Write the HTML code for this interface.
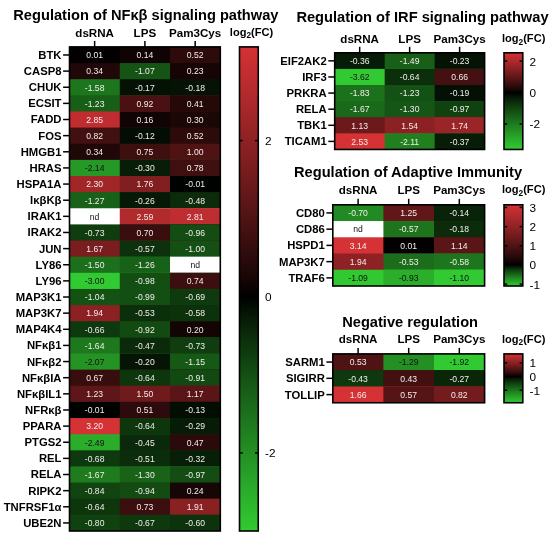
<!DOCTYPE html>
<html><head><meta charset="utf-8"><title>Heatmaps</title>
<style>
html,body{margin:0;padding:0;background:#fff;}
svg{display:block;font-family:"Liberation Sans", Arial, sans-serif;}
.title{font-weight:bold;font-size:14.65px;fill:#000;}
.hdr{font-weight:bold;font-size:11.6px;fill:#000;}
.lg{font-size:11.1px;}
.sub{font-size:8.3px;}
.rl{font-weight:bold;font-size:11.3px;fill:#000;}
.cv{font-size:8.6px;fill:#f2ecec;}
.cv.k{fill:#111;}
.cl{font-size:11.8px;fill:#000;}
.tk{stroke:#000;stroke-width:1.5;}
.bx{fill:none;stroke:#000;stroke-width:1.6;}
.bx2{stroke:#000;stroke-width:1.6;}
</style></head><body>
<svg width="550" height="538" viewBox="0 0 550 538">
<rect width="550" height="538" fill="#fff"/>
<text x="13.3" y="19.6" class="title">Regulation of NFκβ signaling pathway</text>
<text x="94.63" y="36.6" class="hdr" text-anchor="middle">dsRNA</text>
<line x1="94.63" y1="40.90" x2="94.63" y2="46.90" class="tk"/>
<text x="144.90" y="36.6" class="hdr" text-anchor="middle">LPS</text>
<line x1="144.90" y1="40.90" x2="144.90" y2="46.90" class="tk"/>
<text x="195.17" y="36.6" class="hdr" text-anchor="middle">Pam3Cys</text>
<line x1="195.17" y1="40.90" x2="195.17" y2="46.90" class="tk"/>
<text x="229.8" y="36.10" class="hdr lg">log<tspan class="sub" dy="2.3">2</tspan><tspan dy="-2.3">(FC)</tspan></text>
<text x="61.50" y="58.92" class="rl" text-anchor="end">BTK</text>
<line x1="63.10" y1="54.97" x2="69.50" y2="54.97" class="tk"/>
<rect x="69.50" y="46.90" width="150.80" height="484.10" fill="#020000"/>
<text x="94.63" y="58.27" class="cv" text-anchor="middle">0.01</text>
<rect x="119.77" y="46.90" width="100.53" height="484.10" fill="#0f0304"/>
<text x="144.90" y="58.27" class="cv" text-anchor="middle">0.14</text>
<rect x="170.03" y="46.90" width="50.27" height="484.10" fill="#2d0b0b"/>
<text x="195.17" y="58.27" class="cv" text-anchor="middle">0.52</text>
<text x="61.50" y="75.05" class="rl" text-anchor="end">CASP8</text>
<line x1="63.10" y1="71.10" x2="69.50" y2="71.10" class="tk"/>
<rect x="69.50" y="63.04" width="150.80" height="467.96" fill="#200708"/>
<text x="94.63" y="74.40" class="cv" text-anchor="middle">0.34</text>
<rect x="119.77" y="63.04" width="100.53" height="467.96" fill="#155415"/>
<text x="144.90" y="74.40" class="cv" text-anchor="middle">-1.07</text>
<rect x="170.03" y="63.04" width="50.27" height="467.96" fill="#170506"/>
<text x="195.17" y="74.40" class="cv" text-anchor="middle">0.23</text>
<text x="61.50" y="91.19" class="rl" text-anchor="end">CHUK</text>
<line x1="63.10" y1="87.24" x2="69.50" y2="87.24" class="tk"/>
<rect x="69.50" y="79.17" width="150.80" height="451.83" fill="#1d751d"/>
<text x="94.63" y="90.54" class="cv" text-anchor="middle">-1.58</text>
<rect x="119.77" y="79.17" width="100.53" height="451.83" fill="#041204"/>
<text x="144.90" y="90.54" class="cv" text-anchor="middle">-0.17</text>
<rect x="170.03" y="79.17" width="50.27" height="451.83" fill="#051205"/>
<text x="195.17" y="90.54" class="cv" text-anchor="middle">-0.18</text>
<text x="61.50" y="107.33" class="rl" text-anchor="end">ECSIT</text>
<line x1="63.10" y1="103.38" x2="69.50" y2="103.38" class="tk"/>
<rect x="69.50" y="95.31" width="150.80" height="435.69" fill="#175f17"/>
<text x="94.63" y="106.68" class="cv" text-anchor="middle">-1.23</text>
<rect x="119.77" y="95.31" width="100.53" height="435.69" fill="#491112"/>
<text x="144.90" y="106.68" class="cv" text-anchor="middle">0.92</text>
<rect x="170.03" y="95.31" width="50.27" height="435.69" fill="#250909"/>
<text x="195.17" y="106.68" class="cv" text-anchor="middle">0.41</text>
<text x="61.50" y="123.46" class="rl" text-anchor="end">FADD</text>
<line x1="63.10" y1="119.51" x2="69.50" y2="119.51" class="tk"/>
<rect x="69.50" y="111.45" width="150.80" height="419.55" fill="#c02d30"/>
<text x="94.63" y="122.81" class="cv" text-anchor="middle">2.85</text>
<rect x="119.77" y="111.45" width="100.53" height="419.55" fill="#110404"/>
<text x="144.90" y="122.81" class="cv" text-anchor="middle">0.16</text>
<rect x="170.03" y="111.45" width="50.27" height="419.55" fill="#1c0707"/>
<text x="195.17" y="122.81" class="cv" text-anchor="middle">0.30</text>
<text x="61.50" y="139.60" class="rl" text-anchor="end">FOS</text>
<line x1="63.10" y1="135.65" x2="69.50" y2="135.65" class="tk"/>
<rect x="69.50" y="127.58" width="150.80" height="403.42" fill="#431011"/>
<text x="94.63" y="138.95" class="cv" text-anchor="middle">0.82</text>
<rect x="119.77" y="127.58" width="100.53" height="403.42" fill="#030d03"/>
<text x="144.90" y="138.95" class="cv" text-anchor="middle">-0.12</text>
<rect x="170.03" y="127.58" width="50.27" height="403.42" fill="#2d0b0b"/>
<text x="195.17" y="138.95" class="cv" text-anchor="middle">0.52</text>
<text x="61.50" y="155.74" class="rl" text-anchor="end">HMGB1</text>
<line x1="63.10" y1="151.79" x2="69.50" y2="151.79" class="tk"/>
<rect x="69.50" y="143.72" width="150.80" height="387.28" fill="#200708"/>
<text x="94.63" y="155.09" class="cv" text-anchor="middle">0.34</text>
<rect x="119.77" y="143.72" width="100.53" height="387.28" fill="#3e0f0f"/>
<text x="144.90" y="155.09" class="cv" text-anchor="middle">0.75</text>
<rect x="170.03" y="143.72" width="50.27" height="387.28" fill="#4f1314"/>
<text x="195.17" y="155.09" class="cv" text-anchor="middle">1.00</text>
<text x="61.50" y="171.88" class="rl" text-anchor="end">HRAS</text>
<line x1="63.10" y1="167.93" x2="69.50" y2="167.93" class="tk"/>
<rect x="69.50" y="159.86" width="150.80" height="371.14" fill="#269826"/>
<text x="94.63" y="171.23" class="cv k" text-anchor="middle">-2.14</text>
<rect x="119.77" y="159.86" width="100.53" height="371.14" fill="#071d07"/>
<text x="144.90" y="171.23" class="cv" text-anchor="middle">-0.30</text>
<rect x="170.03" y="159.86" width="50.27" height="371.14" fill="#400f10"/>
<text x="195.17" y="171.23" class="cv" text-anchor="middle">0.78</text>
<text x="61.50" y="188.01" class="rl" text-anchor="end">HSPA1A</text>
<line x1="63.10" y1="184.06" x2="69.50" y2="184.06" class="tk"/>
<rect x="69.50" y="175.99" width="150.80" height="355.01" fill="#a02628"/>
<text x="94.63" y="187.36" class="cv" text-anchor="middle">2.30</text>
<rect x="119.77" y="175.99" width="100.53" height="355.01" fill="#801e20"/>
<text x="144.90" y="187.36" class="cv" text-anchor="middle">1.76</text>
<rect x="170.03" y="175.99" width="50.27" height="355.01" fill="#000200"/>
<text x="195.17" y="187.36" class="cv" text-anchor="middle">-0.01</text>
<text x="61.50" y="204.15" class="rl" text-anchor="end">IκβKβ</text>
<line x1="63.10" y1="200.20" x2="69.50" y2="200.20" class="tk"/>
<rect x="69.50" y="192.13" width="150.80" height="338.87" fill="#186118"/>
<text x="94.63" y="203.50" class="cv" text-anchor="middle">-1.27</text>
<rect x="119.77" y="192.13" width="100.53" height="338.87" fill="#061906"/>
<text x="144.90" y="203.50" class="cv" text-anchor="middle">-0.26</text>
<rect x="170.03" y="192.13" width="50.27" height="338.87" fill="#0b2b0b"/>
<text x="195.17" y="203.50" class="cv" text-anchor="middle">-0.48</text>
<text x="61.50" y="220.28" class="rl" text-anchor="end">IRAK1</text>
<line x1="63.10" y1="216.34" x2="69.50" y2="216.34" class="tk"/>
<rect x="69.50" y="208.27" width="150.80" height="322.73" fill="#ffffff"/>
<text x="94.63" y="219.64" class="cv k" text-anchor="middle">nd</text>
<rect x="119.77" y="208.27" width="100.53" height="322.73" fill="#b12a2c"/>
<text x="144.90" y="219.64" class="cv" text-anchor="middle">2.59</text>
<rect x="170.03" y="208.27" width="50.27" height="322.73" fill="#be2d2f"/>
<text x="195.17" y="219.64" class="cv" text-anchor="middle">2.81</text>
<text x="61.50" y="236.42" class="rl" text-anchor="end">IRAK2</text>
<line x1="63.10" y1="232.47" x2="69.50" y2="232.47" class="tk"/>
<rect x="69.50" y="224.40" width="150.80" height="306.60" fill="#0f3d0f"/>
<text x="94.63" y="235.77" class="cv" text-anchor="middle">-0.73</text>
<rect x="119.77" y="224.40" width="100.53" height="306.60" fill="#3a0e0f"/>
<text x="144.90" y="235.77" class="cv" text-anchor="middle">0.70</text>
<rect x="170.03" y="224.40" width="50.27" height="306.60" fill="#134d13"/>
<text x="195.17" y="235.77" class="cv" text-anchor="middle">-0.96</text>
<text x="61.50" y="252.56" class="rl" text-anchor="end">JUN</text>
<line x1="63.10" y1="248.61" x2="69.50" y2="248.61" class="tk"/>
<rect x="69.50" y="240.54" width="150.80" height="290.46" fill="#7a1d1e"/>
<text x="94.63" y="251.91" class="cv" text-anchor="middle">1.67</text>
<rect x="119.77" y="240.54" width="100.53" height="290.46" fill="#0c310c"/>
<text x="144.90" y="251.91" class="cv" text-anchor="middle">-0.57</text>
<rect x="170.03" y="240.54" width="50.27" height="290.46" fill="#144f14"/>
<text x="195.17" y="251.91" class="cv" text-anchor="middle">-1.00</text>
<text x="61.50" y="268.69" class="rl" text-anchor="end">LY86</text>
<line x1="63.10" y1="264.75" x2="69.50" y2="264.75" class="tk"/>
<rect x="69.50" y="256.68" width="150.80" height="274.32" fill="#1c701c"/>
<text x="94.63" y="268.05" class="cv" text-anchor="middle">-1.50</text>
<rect x="119.77" y="256.68" width="100.53" height="274.32" fill="#186118"/>
<text x="144.90" y="268.05" class="cv" text-anchor="middle">-1.26</text>
<rect x="170.03" y="256.68" width="50.27" height="274.32" fill="#ffffff"/>
<text x="195.17" y="268.05" class="cv k" text-anchor="middle">nd</text>
<text x="61.50" y="284.83" class="rl" text-anchor="end">LY96</text>
<line x1="63.10" y1="280.88" x2="69.50" y2="280.88" class="tk"/>
<rect x="69.50" y="272.81" width="150.80" height="258.19" fill="#32ca32"/>
<text x="94.63" y="284.18" class="cv k" text-anchor="middle">-3.00</text>
<rect x="119.77" y="272.81" width="100.53" height="258.19" fill="#134e13"/>
<text x="144.90" y="284.18" class="cv" text-anchor="middle">-0.98</text>
<rect x="170.03" y="272.81" width="50.27" height="258.19" fill="#3d0e0f"/>
<text x="195.17" y="284.18" class="cv" text-anchor="middle">0.74</text>
<text x="61.50" y="300.97" class="rl" text-anchor="end">MAP3K1</text>
<line x1="63.10" y1="297.02" x2="69.50" y2="297.02" class="tk"/>
<rect x="69.50" y="288.95" width="150.80" height="242.05" fill="#145214"/>
<text x="94.63" y="300.32" class="cv" text-anchor="middle">-1.04</text>
<rect x="119.77" y="288.95" width="100.53" height="242.05" fill="#134f13"/>
<text x="144.90" y="300.32" class="cv" text-anchor="middle">-0.99</text>
<rect x="170.03" y="288.95" width="50.27" height="242.05" fill="#0e3a0e"/>
<text x="195.17" y="300.32" class="cv" text-anchor="middle">-0.69</text>
<text x="61.50" y="317.10" class="rl" text-anchor="end">MAP3K7</text>
<line x1="63.10" y1="313.15" x2="69.50" y2="313.15" class="tk"/>
<rect x="69.50" y="305.09" width="150.80" height="225.91" fill="#8b2123"/>
<text x="94.63" y="316.45" class="cv" text-anchor="middle">1.94</text>
<rect x="119.77" y="305.09" width="100.53" height="225.91" fill="#0b2e0b"/>
<text x="144.90" y="316.45" class="cv" text-anchor="middle">-0.53</text>
<rect x="170.03" y="305.09" width="50.27" height="225.91" fill="#0c320c"/>
<text x="195.17" y="316.45" class="cv" text-anchor="middle">-0.58</text>
<text x="61.50" y="333.24" class="rl" text-anchor="end">MAP4K4</text>
<line x1="63.10" y1="329.29" x2="69.50" y2="329.29" class="tk"/>
<rect x="69.50" y="321.22" width="150.80" height="209.78" fill="#0e380e"/>
<text x="94.63" y="332.59" class="cv" text-anchor="middle">-0.66</text>
<rect x="119.77" y="321.22" width="100.53" height="209.78" fill="#124a12"/>
<text x="144.90" y="332.59" class="cv" text-anchor="middle">-0.92</text>
<rect x="170.03" y="321.22" width="50.27" height="209.78" fill="#140505"/>
<text x="195.17" y="332.59" class="cv" text-anchor="middle">0.20</text>
<text x="61.50" y="349.38" class="rl" text-anchor="end">NFκβ1</text>
<line x1="63.10" y1="345.43" x2="69.50" y2="345.43" class="tk"/>
<rect x="69.50" y="337.36" width="150.80" height="193.64" fill="#1e791e"/>
<text x="94.63" y="348.73" class="cv" text-anchor="middle">-1.64</text>
<rect x="119.77" y="337.36" width="100.53" height="193.64" fill="#0a2a0a"/>
<text x="144.90" y="348.73" class="cv" text-anchor="middle">-0.47</text>
<rect x="170.03" y="337.36" width="50.27" height="193.64" fill="#0f3d0f"/>
<text x="195.17" y="348.73" class="cv" text-anchor="middle">-0.73</text>
<text x="61.50" y="365.51" class="rl" text-anchor="end">NFκβ2</text>
<line x1="63.10" y1="361.56" x2="69.50" y2="361.56" class="tk"/>
<rect x="69.50" y="353.50" width="150.80" height="177.50" fill="#249324"/>
<text x="94.63" y="364.87" class="cv k" text-anchor="middle">-2.07</text>
<rect x="119.77" y="353.50" width="100.53" height="177.50" fill="#051405"/>
<text x="144.90" y="364.87" class="cv" text-anchor="middle">-0.20</text>
<rect x="170.03" y="353.50" width="50.27" height="177.50" fill="#165916"/>
<text x="195.17" y="364.87" class="cv" text-anchor="middle">-1.15</text>
<text x="61.50" y="381.65" class="rl" text-anchor="end">NFκβIA</text>
<line x1="63.10" y1="377.70" x2="69.50" y2="377.70" class="tk"/>
<rect x="69.50" y="369.63" width="150.80" height="161.37" fill="#380d0e"/>
<text x="94.63" y="381.00" class="cv" text-anchor="middle">0.67</text>
<rect x="119.77" y="369.63" width="100.53" height="161.37" fill="#0d360d"/>
<text x="144.90" y="381.00" class="cv" text-anchor="middle">-0.64</text>
<rect x="170.03" y="369.63" width="50.27" height="161.37" fill="#124912"/>
<text x="195.17" y="381.00" class="cv" text-anchor="middle">-0.91</text>
<text x="61.50" y="397.79" class="rl" text-anchor="end">NFκβIL1</text>
<line x1="63.10" y1="393.84" x2="69.50" y2="393.84" class="tk"/>
<rect x="69.50" y="385.77" width="150.80" height="145.23" fill="#5e1618"/>
<text x="94.63" y="397.14" class="cv" text-anchor="middle">1.23</text>
<rect x="119.77" y="385.77" width="100.53" height="145.23" fill="#6f1a1c"/>
<text x="144.90" y="397.14" class="cv" text-anchor="middle">1.50</text>
<rect x="170.03" y="385.77" width="50.27" height="145.23" fill="#5a1517"/>
<text x="195.17" y="397.14" class="cv" text-anchor="middle">1.17</text>
<text x="61.50" y="413.92" class="rl" text-anchor="end">NFRκβ</text>
<line x1="63.10" y1="409.97" x2="69.50" y2="409.97" class="tk"/>
<rect x="69.50" y="401.91" width="150.80" height="129.09" fill="#000200"/>
<text x="94.63" y="413.27" class="cv" text-anchor="middle">-0.01</text>
<rect x="119.77" y="401.91" width="100.53" height="129.09" fill="#2d0a0b"/>
<text x="144.90" y="413.27" class="cv" text-anchor="middle">0.51</text>
<rect x="170.03" y="401.91" width="50.27" height="129.09" fill="#030e03"/>
<text x="195.17" y="413.27" class="cv" text-anchor="middle">-0.13</text>
<text x="61.50" y="430.06" class="rl" text-anchor="end">PPARA</text>
<line x1="63.10" y1="426.11" x2="69.50" y2="426.11" class="tk"/>
<rect x="69.50" y="418.04" width="150.80" height="112.96" fill="#d43235"/>
<text x="94.63" y="429.41" class="cv" text-anchor="middle">3.20</text>
<rect x="119.77" y="418.04" width="100.53" height="112.96" fill="#0d360d"/>
<text x="144.90" y="429.41" class="cv" text-anchor="middle">-0.64</text>
<rect x="170.03" y="418.04" width="50.27" height="112.96" fill="#071c07"/>
<text x="195.17" y="429.41" class="cv" text-anchor="middle">-0.29</text>
<text x="61.50" y="446.20" class="rl" text-anchor="end">PTGS2</text>
<line x1="63.10" y1="442.25" x2="69.50" y2="442.25" class="tk"/>
<rect x="69.50" y="434.18" width="150.80" height="96.82" fill="#2bac2b"/>
<text x="94.63" y="445.55" class="cv k" text-anchor="middle">-2.49</text>
<rect x="119.77" y="434.18" width="100.53" height="96.82" fill="#0a280a"/>
<text x="144.90" y="445.55" class="cv" text-anchor="middle">-0.45</text>
<rect x="170.03" y="434.18" width="50.27" height="96.82" fill="#2a0a0a"/>
<text x="195.17" y="445.55" class="cv" text-anchor="middle">0.47</text>
<text x="61.50" y="462.33" class="rl" text-anchor="end">REL</text>
<line x1="63.10" y1="458.38" x2="69.50" y2="458.38" class="tk"/>
<rect x="69.50" y="450.32" width="150.80" height="80.68" fill="#0e390e"/>
<text x="94.63" y="461.69" class="cv" text-anchor="middle">-0.68</text>
<rect x="119.77" y="450.32" width="100.53" height="80.68" fill="#0b2d0b"/>
<text x="144.90" y="461.69" class="cv" text-anchor="middle">-0.51</text>
<rect x="170.03" y="450.32" width="50.27" height="80.68" fill="#071e07"/>
<text x="195.17" y="461.69" class="cv" text-anchor="middle">-0.32</text>
<text x="61.50" y="478.47" class="rl" text-anchor="end">RELA</text>
<line x1="63.10" y1="474.52" x2="69.50" y2="474.52" class="tk"/>
<rect x="69.50" y="466.45" width="150.80" height="64.55" fill="#1e7b1e"/>
<text x="94.63" y="477.82" class="cv" text-anchor="middle">-1.67</text>
<rect x="119.77" y="466.45" width="100.53" height="64.55" fill="#196319"/>
<text x="144.90" y="477.82" class="cv" text-anchor="middle">-1.30</text>
<rect x="170.03" y="466.45" width="50.27" height="64.55" fill="#134d13"/>
<text x="195.17" y="477.82" class="cv" text-anchor="middle">-0.97</text>
<text x="61.50" y="494.61" class="rl" text-anchor="end">RIPK2</text>
<line x1="63.10" y1="490.66" x2="69.50" y2="490.66" class="tk"/>
<rect x="69.50" y="482.59" width="150.80" height="48.41" fill="#114411"/>
<text x="94.63" y="493.96" class="cv" text-anchor="middle">-0.84</text>
<rect x="119.77" y="482.59" width="100.53" height="48.41" fill="#134b13"/>
<text x="144.90" y="493.96" class="cv" text-anchor="middle">-0.94</text>
<rect x="170.03" y="482.59" width="50.27" height="48.41" fill="#170606"/>
<text x="195.17" y="493.96" class="cv" text-anchor="middle">0.24</text>
<text x="61.50" y="510.74" class="rl" text-anchor="end">TNFRSF1α</text>
<line x1="63.10" y1="506.79" x2="69.50" y2="506.79" class="tk"/>
<rect x="69.50" y="498.73" width="150.80" height="32.27" fill="#0d360d"/>
<text x="94.63" y="510.09" class="cv" text-anchor="middle">-0.64</text>
<rect x="119.77" y="498.73" width="100.53" height="32.27" fill="#3c0e0f"/>
<text x="144.90" y="510.09" class="cv" text-anchor="middle">0.73</text>
<rect x="170.03" y="498.73" width="50.27" height="32.27" fill="#892022"/>
<text x="195.17" y="510.09" class="cv" text-anchor="middle">1.91</text>
<text x="61.50" y="526.88" class="rl" text-anchor="end">UBE2N</text>
<line x1="63.10" y1="522.93" x2="69.50" y2="522.93" class="tk"/>
<rect x="69.50" y="514.86" width="150.80" height="16.14" fill="#104210"/>
<text x="94.63" y="526.23" class="cv" text-anchor="middle">-0.80</text>
<rect x="119.77" y="514.86" width="100.53" height="16.14" fill="#0e380e"/>
<text x="144.90" y="526.23" class="cv" text-anchor="middle">-0.67</text>
<rect x="170.03" y="514.86" width="50.27" height="16.14" fill="#0d330d"/>
<text x="195.17" y="526.23" class="cv" text-anchor="middle">-0.60</text>
<rect x="69.5" y="46.9" width="150.80" height="484.10" class="bx"/>
<defs><linearGradient id="ga" x1="0" y1="0" x2="0" y2="1"><stop offset="0.00%" stop-color="rgb(212, 50, 53)"/><stop offset="4.30%" stop-color="rgb(197, 46, 49)"/><stop offset="8.60%" stop-color="rgb(182, 43, 45)"/><stop offset="12.90%" stop-color="rgb(166, 39, 42)"/><stop offset="17.20%" stop-color="rgb(150, 35, 38)"/><stop offset="21.51%" stop-color="rgb(134, 32, 34)"/><stop offset="25.81%" stop-color="rgb(118, 28, 29)"/><stop offset="30.11%" stop-color="rgb(101, 24, 25)"/><stop offset="34.41%" stop-color="rgb(83, 20, 21)"/><stop offset="38.71%" stop-color="rgb(65, 15, 16)"/><stop offset="43.01%" stop-color="rgb(46, 11, 12)"/><stop offset="47.31%" stop-color="rgb(26, 6, 6)"/><stop offset="51.61%" stop-color="rgb(0, 0, 0)"/><stop offset="55.65%" stop-color="rgb(6, 24, 6)"/><stop offset="59.68%" stop-color="rgb(11, 44, 11)"/><stop offset="63.71%" stop-color="rgb(15, 62, 15)"/><stop offset="67.74%" stop-color="rgb(20, 79, 20)"/><stop offset="71.77%" stop-color="rgb(24, 96, 24)"/><stop offset="75.81%" stop-color="rgb(28, 112, 28)"/><stop offset="79.84%" stop-color="rgb(32, 128, 32)"/><stop offset="83.87%" stop-color="rgb(35, 143, 35)"/><stop offset="87.90%" stop-color="rgb(39, 158, 39)"/><stop offset="91.94%" stop-color="rgb(43, 173, 43)"/><stop offset="95.97%" stop-color="rgb(46, 188, 46)"/><stop offset="100.00%" stop-color="rgb(50, 202, 50)"/></linearGradient></defs>
<rect x="239.5" y="46.9" width="18.75" height="484.10" fill="url(#ga)" class="bx2"/>
<line x1="239.5" y1="140.60" x2="242.7" y2="140.60" class="tk"/>
<line x1="255.05" y1="140.60" x2="258.25" y2="140.60" class="tk"/>
<text x="265" y="145.05" class="cl">2</text>
<line x1="239.5" y1="296.76" x2="242.7" y2="296.76" class="tk"/>
<line x1="255.05" y1="296.76" x2="258.25" y2="296.76" class="tk"/>
<text x="265" y="301.21" class="cl">0</text>
<line x1="239.5" y1="452.92" x2="242.7" y2="452.92" class="tk"/>
<line x1="255.05" y1="452.92" x2="258.25" y2="452.92" class="tk"/>
<text x="265" y="457.37" class="cl">-2</text>
<text x="296.4" y="21.8" class="title">Regulation of IRF signaling pathway</text>
<text x="359.68" y="42.8" class="hdr" text-anchor="middle">dsRNA</text>
<line x1="359.68" y1="46.80" x2="359.68" y2="52.80" class="tk"/>
<text x="409.65" y="42.8" class="hdr" text-anchor="middle">LPS</text>
<line x1="409.65" y1="46.80" x2="409.65" y2="52.80" class="tk"/>
<text x="459.62" y="42.8" class="hdr" text-anchor="middle">Pam3Cys</text>
<line x1="459.62" y1="46.80" x2="459.62" y2="52.80" class="tk"/>
<text x="501.9" y="42.30" class="hdr lg">log<tspan class="sub" dy="2.3">2</tspan><tspan dy="-2.3">(FC)</tspan></text>
<text x="326.70" y="64.80" class="rl" text-anchor="end">EIF2AK2</text>
<line x1="328.30" y1="60.85" x2="334.70" y2="60.85" class="tk"/>
<rect x="334.70" y="52.80" width="149.90" height="96.65" fill="#071c07"/>
<text x="359.68" y="64.15" class="cv" text-anchor="middle">-0.36</text>
<rect x="384.67" y="52.80" width="99.93" height="96.65" fill="#185f18"/>
<text x="409.65" y="64.15" class="cv" text-anchor="middle">-1.49</text>
<rect x="434.63" y="52.80" width="49.97" height="96.65" fill="#051305"/>
<text x="459.62" y="64.15" class="cv" text-anchor="middle">-0.23</text>
<text x="326.70" y="80.91" class="rl" text-anchor="end">IRF3</text>
<line x1="328.30" y1="76.96" x2="334.70" y2="76.96" class="tk"/>
<rect x="334.70" y="68.91" width="149.90" height="80.54" fill="#32ca32"/>
<text x="359.68" y="80.26" class="cv k" text-anchor="middle">-3.62</text>
<rect x="384.67" y="68.91" width="99.93" height="80.54" fill="#0b2e0b"/>
<text x="409.65" y="80.26" class="cv" text-anchor="middle">-0.64</text>
<rect x="434.63" y="68.91" width="49.97" height="80.54" fill="#441011"/>
<text x="459.62" y="80.26" class="cv" text-anchor="middle">0.66</text>
<text x="326.70" y="97.02" class="rl" text-anchor="end">PRKRA</text>
<line x1="328.30" y1="93.07" x2="334.70" y2="93.07" class="tk"/>
<rect x="334.70" y="85.02" width="149.90" height="64.43" fill="#1c711c"/>
<text x="359.68" y="96.37" class="cv" text-anchor="middle">-1.83</text>
<rect x="384.67" y="85.02" width="99.93" height="64.43" fill="#145114"/>
<text x="409.65" y="96.37" class="cv" text-anchor="middle">-1.23</text>
<rect x="434.63" y="85.02" width="49.97" height="64.43" fill="#041004"/>
<text x="459.62" y="96.37" class="cv" text-anchor="middle">-0.19</text>
<text x="326.70" y="113.13" class="rl" text-anchor="end">RELA</text>
<line x1="328.30" y1="109.18" x2="334.70" y2="109.18" class="tk"/>
<rect x="334.70" y="101.12" width="149.90" height="48.33" fill="#1a691a"/>
<text x="359.68" y="112.48" class="cv" text-anchor="middle">-1.67</text>
<rect x="384.67" y="101.12" width="99.93" height="48.33" fill="#155515"/>
<text x="409.65" y="112.48" class="cv" text-anchor="middle">-1.30</text>
<rect x="434.63" y="101.12" width="49.97" height="48.33" fill="#104210"/>
<text x="459.62" y="112.48" class="cv" text-anchor="middle">-0.97</text>
<text x="326.70" y="129.24" class="rl" text-anchor="end">TBK1</text>
<line x1="328.30" y1="125.29" x2="334.70" y2="125.29" class="tk"/>
<rect x="334.70" y="117.23" width="149.90" height="32.22" fill="#6b191b"/>
<text x="359.68" y="128.59" class="cv" text-anchor="middle">1.13</text>
<rect x="384.67" y="117.23" width="99.93" height="32.22" fill="#8b2123"/>
<text x="409.65" y="128.59" class="cv" text-anchor="middle">1.54</text>
<rect x="434.63" y="117.23" width="49.97" height="32.22" fill="#9a2427"/>
<text x="459.62" y="128.59" class="cv" text-anchor="middle">1.74</text>
<text x="326.70" y="145.35" class="rl" text-anchor="end">TICAM1</text>
<line x1="328.30" y1="141.40" x2="334.70" y2="141.40" class="tk"/>
<rect x="334.70" y="133.34" width="149.90" height="16.11" fill="#d43235"/>
<text x="359.68" y="144.70" class="cv" text-anchor="middle">2.53</text>
<rect x="384.67" y="133.34" width="99.93" height="16.11" fill="#208020"/>
<text x="409.65" y="144.70" class="cv" text-anchor="middle">-2.11</text>
<rect x="434.63" y="133.34" width="49.97" height="16.11" fill="#071d07"/>
<text x="459.62" y="144.70" class="cv" text-anchor="middle">-0.37</text>
<rect x="334.7" y="52.8" width="149.90" height="96.65" class="bx"/>
<defs><linearGradient id="gb" x1="0" y1="0" x2="0" y2="1"><stop offset="0.00%" stop-color="rgb(212, 50, 53)"/><stop offset="3.43%" stop-color="rgb(197, 46, 49)"/><stop offset="6.86%" stop-color="rgb(182, 43, 45)"/><stop offset="10.28%" stop-color="rgb(166, 39, 42)"/><stop offset="13.71%" stop-color="rgb(150, 35, 38)"/><stop offset="17.14%" stop-color="rgb(134, 32, 34)"/><stop offset="20.57%" stop-color="rgb(118, 28, 29)"/><stop offset="24.00%" stop-color="rgb(101, 24, 25)"/><stop offset="27.43%" stop-color="rgb(83, 20, 21)"/><stop offset="30.85%" stop-color="rgb(65, 15, 16)"/><stop offset="34.28%" stop-color="rgb(46, 11, 12)"/><stop offset="37.71%" stop-color="rgb(26, 6, 6)"/><stop offset="41.14%" stop-color="rgb(0, 0, 0)"/><stop offset="46.04%" stop-color="rgb(6, 24, 6)"/><stop offset="50.95%" stop-color="rgb(11, 44, 11)"/><stop offset="55.85%" stop-color="rgb(15, 62, 15)"/><stop offset="60.76%" stop-color="rgb(20, 79, 20)"/><stop offset="65.66%" stop-color="rgb(24, 96, 24)"/><stop offset="70.57%" stop-color="rgb(28, 112, 28)"/><stop offset="75.47%" stop-color="rgb(32, 128, 32)"/><stop offset="80.38%" stop-color="rgb(35, 143, 35)"/><stop offset="85.28%" stop-color="rgb(39, 158, 39)"/><stop offset="90.19%" stop-color="rgb(43, 173, 43)"/><stop offset="95.09%" stop-color="rgb(46, 188, 46)"/><stop offset="100.00%" stop-color="rgb(50, 202, 50)"/></linearGradient></defs>
<rect x="504.0" y="52.8" width="18.80" height="96.65" fill="url(#gb)" class="bx2"/>
<line x1="504.0" y1="61.13" x2="507.2" y2="61.13" class="tk"/>
<line x1="519.5999999999999" y1="61.13" x2="522.8" y2="61.13" class="tk"/>
<text x="529.6" y="65.58" class="cl">2</text>
<line x1="504.0" y1="92.56" x2="507.2" y2="92.56" class="tk"/>
<line x1="519.5999999999999" y1="92.56" x2="522.8" y2="92.56" class="tk"/>
<text x="529.6" y="97.01" class="cl">0</text>
<line x1="504.0" y1="123.99" x2="507.2" y2="123.99" class="tk"/>
<line x1="519.5999999999999" y1="123.99" x2="522.8" y2="123.99" class="tk"/>
<text x="529.6" y="128.44" class="cl">-2</text>
<text x="294.0" y="177.0" class="title">Regulation of Adaptive Immunity</text>
<text x="358.10" y="193.8" class="hdr" text-anchor="middle">dsRNA</text>
<line x1="358.10" y1="198.80" x2="358.10" y2="204.80" class="tk"/>
<text x="408.70" y="193.8" class="hdr" text-anchor="middle">LPS</text>
<line x1="408.70" y1="198.80" x2="408.70" y2="204.80" class="tk"/>
<text x="459.30" y="193.8" class="hdr" text-anchor="middle">Pam3Cys</text>
<line x1="459.30" y1="198.80" x2="459.30" y2="204.80" class="tk"/>
<text x="501.9" y="193.30" class="hdr lg">log<tspan class="sub" dy="2.3">2</tspan><tspan dy="-2.3">(FC)</tspan></text>
<text x="324.80" y="216.87" class="rl" text-anchor="end">CD80</text>
<line x1="326.40" y1="212.92" x2="332.80" y2="212.92" class="tk"/>
<rect x="332.80" y="204.80" width="151.80" height="81.20" fill="#228a22"/>
<text x="358.10" y="216.22" class="cv" text-anchor="middle">-0.70</text>
<rect x="383.40" y="204.80" width="101.20" height="81.20" fill="#611718"/>
<text x="408.70" y="216.22" class="cv" text-anchor="middle">1.25</text>
<rect x="434.00" y="204.80" width="50.60" height="81.20" fill="#092309"/>
<text x="459.30" y="216.22" class="cv" text-anchor="middle">-0.14</text>
<text x="324.80" y="233.11" class="rl" text-anchor="end">CD86</text>
<line x1="326.40" y1="229.16" x2="332.80" y2="229.16" class="tk"/>
<rect x="332.80" y="221.04" width="151.80" height="64.96" fill="#ffffff"/>
<text x="358.10" y="232.46" class="cv k" text-anchor="middle">nd</text>
<rect x="383.40" y="221.04" width="101.20" height="64.96" fill="#1d741d"/>
<text x="408.70" y="232.46" class="cv" text-anchor="middle">-0.57</text>
<rect x="434.00" y="221.04" width="50.60" height="64.96" fill="#0b2b0b"/>
<text x="459.30" y="232.46" class="cv" text-anchor="middle">-0.18</text>
<text x="324.80" y="249.35" class="rl" text-anchor="end">HSPD1</text>
<line x1="326.40" y1="245.40" x2="332.80" y2="245.40" class="tk"/>
<rect x="332.80" y="237.28" width="151.80" height="48.72" fill="#d43235"/>
<text x="358.10" y="248.70" class="cv" text-anchor="middle">3.14</text>
<rect x="383.40" y="237.28" width="101.20" height="48.72" fill="#020000"/>
<text x="408.70" y="248.70" class="cv" text-anchor="middle">0.01</text>
<rect x="434.00" y="237.28" width="50.60" height="48.72" fill="#5a1516"/>
<text x="459.30" y="248.70" class="cv" text-anchor="middle">1.14</text>
<text x="324.80" y="265.59" class="rl" text-anchor="end">MAP3K7</text>
<line x1="326.40" y1="261.64" x2="332.80" y2="261.64" class="tk"/>
<rect x="332.80" y="253.52" width="151.80" height="32.48" fill="#8d2123"/>
<text x="358.10" y="264.94" class="cv" text-anchor="middle">1.94</text>
<rect x="383.40" y="253.52" width="101.20" height="32.48" fill="#1b6d1b"/>
<text x="408.70" y="264.94" class="cv" text-anchor="middle">-0.53</text>
<rect x="434.00" y="253.52" width="50.60" height="32.48" fill="#1d751d"/>
<text x="459.30" y="264.94" class="cv" text-anchor="middle">-0.58</text>
<text x="324.80" y="281.83" class="rl" text-anchor="end">TRAF6</text>
<line x1="326.40" y1="277.88" x2="332.80" y2="277.88" class="tk"/>
<rect x="332.80" y="269.76" width="151.80" height="16.24" fill="#32c832"/>
<text x="358.10" y="281.18" class="cv k" text-anchor="middle">-1.09</text>
<rect x="383.40" y="269.76" width="101.20" height="16.24" fill="#2baf2b"/>
<text x="408.70" y="281.18" class="cv k" text-anchor="middle">-0.93</text>
<rect x="434.00" y="269.76" width="50.60" height="16.24" fill="#32ca32"/>
<text x="459.30" y="281.18" class="cv k" text-anchor="middle">-1.10</text>
<rect x="332.8" y="204.8" width="151.80" height="81.20" class="bx"/>
<defs><linearGradient id="gc" x1="0" y1="0" x2="0" y2="1"><stop offset="0.00%" stop-color="rgb(212, 50, 53)"/><stop offset="6.17%" stop-color="rgb(197, 46, 49)"/><stop offset="12.34%" stop-color="rgb(182, 43, 45)"/><stop offset="18.51%" stop-color="rgb(166, 39, 42)"/><stop offset="24.69%" stop-color="rgb(150, 35, 38)"/><stop offset="30.86%" stop-color="rgb(134, 32, 34)"/><stop offset="37.03%" stop-color="rgb(118, 28, 29)"/><stop offset="43.20%" stop-color="rgb(101, 24, 25)"/><stop offset="49.37%" stop-color="rgb(83, 20, 21)"/><stop offset="55.54%" stop-color="rgb(65, 15, 16)"/><stop offset="61.71%" stop-color="rgb(46, 11, 12)"/><stop offset="67.89%" stop-color="rgb(26, 6, 6)"/><stop offset="74.06%" stop-color="rgb(0, 0, 0)"/><stop offset="76.22%" stop-color="rgb(6, 24, 6)"/><stop offset="78.38%" stop-color="rgb(11, 44, 11)"/><stop offset="80.54%" stop-color="rgb(15, 62, 15)"/><stop offset="82.70%" stop-color="rgb(20, 79, 20)"/><stop offset="84.87%" stop-color="rgb(24, 96, 24)"/><stop offset="87.03%" stop-color="rgb(28, 112, 28)"/><stop offset="89.19%" stop-color="rgb(32, 128, 32)"/><stop offset="91.35%" stop-color="rgb(35, 143, 35)"/><stop offset="93.51%" stop-color="rgb(39, 158, 39)"/><stop offset="95.68%" stop-color="rgb(43, 173, 43)"/><stop offset="97.84%" stop-color="rgb(46, 188, 46)"/><stop offset="100.00%" stop-color="rgb(50, 202, 50)"/></linearGradient></defs>
<rect x="504.0" y="204.8" width="18.80" height="81.20" fill="url(#gc)" class="bx2"/>
<line x1="504.0" y1="207.48" x2="507.2" y2="207.48" class="tk"/>
<line x1="519.5999999999999" y1="207.48" x2="522.8" y2="207.48" class="tk"/>
<text x="529.6" y="211.93" class="cl">3</text>
<line x1="504.0" y1="226.63" x2="507.2" y2="226.63" class="tk"/>
<line x1="519.5999999999999" y1="226.63" x2="522.8" y2="226.63" class="tk"/>
<text x="529.6" y="231.08" class="cl">2</text>
<line x1="504.0" y1="245.78" x2="507.2" y2="245.78" class="tk"/>
<line x1="519.5999999999999" y1="245.78" x2="522.8" y2="245.78" class="tk"/>
<text x="529.6" y="250.23" class="cl">1</text>
<line x1="504.0" y1="264.93" x2="507.2" y2="264.93" class="tk"/>
<line x1="519.5999999999999" y1="264.93" x2="522.8" y2="264.93" class="tk"/>
<text x="529.6" y="269.38" class="cl">0</text>
<line x1="504.0" y1="284.08" x2="507.2" y2="284.08" class="tk"/>
<line x1="519.5999999999999" y1="284.08" x2="522.8" y2="284.08" class="tk"/>
<text x="529.6" y="288.53" class="cl">-1</text>
<text x="342.2" y="326.5" class="title">Negative regulation</text>
<text x="358.10" y="343.1" class="hdr" text-anchor="middle">dsRNA</text>
<line x1="358.10" y1="347.90" x2="358.10" y2="353.90" class="tk"/>
<text x="408.70" y="343.1" class="hdr" text-anchor="middle">LPS</text>
<line x1="408.70" y1="347.90" x2="408.70" y2="353.90" class="tk"/>
<text x="459.30" y="343.1" class="hdr" text-anchor="middle">Pam3Cys</text>
<line x1="459.30" y1="347.90" x2="459.30" y2="353.90" class="tk"/>
<text x="501.9" y="342.60" class="hdr lg">log<tspan class="sub" dy="2.3">2</tspan><tspan dy="-2.3">(FC)</tspan></text>
<text x="324.80" y="365.99" class="rl" text-anchor="end">SARM1</text>
<line x1="326.40" y1="362.04" x2="332.80" y2="362.04" class="tk"/>
<rect x="332.80" y="353.90" width="151.80" height="48.85" fill="#501314"/>
<text x="358.10" y="365.34" class="cv" text-anchor="middle">0.53</text>
<rect x="383.40" y="353.90" width="101.20" height="48.85" fill="#249024"/>
<text x="408.70" y="365.34" class="cv k" text-anchor="middle">-1.29</text>
<rect x="434.00" y="353.90" width="50.60" height="48.85" fill="#32ca32"/>
<text x="459.30" y="365.34" class="cv k" text-anchor="middle">-1.92</text>
<text x="324.80" y="382.27" class="rl" text-anchor="end">SIGIRR</text>
<line x1="326.40" y1="378.32" x2="332.80" y2="378.32" class="tk"/>
<rect x="332.80" y="370.18" width="151.80" height="32.57" fill="#0e390e"/>
<text x="358.10" y="381.62" class="cv" text-anchor="middle">-0.43</text>
<rect x="383.40" y="370.18" width="101.20" height="32.57" fill="#431011"/>
<text x="408.70" y="381.62" class="cv" text-anchor="middle">0.43</text>
<rect x="434.00" y="370.18" width="50.60" height="32.57" fill="#092609"/>
<text x="459.30" y="381.62" class="cv" text-anchor="middle">-0.27</text>
<text x="324.80" y="398.56" class="rl" text-anchor="end">TOLLIP</text>
<line x1="326.40" y1="394.61" x2="332.80" y2="394.61" class="tk"/>
<rect x="332.80" y="386.47" width="151.80" height="16.28" fill="#d43235"/>
<text x="358.10" y="397.91" class="cv" text-anchor="middle">1.66</text>
<rect x="383.40" y="386.47" width="101.20" height="16.28" fill="#551415"/>
<text x="408.70" y="397.91" class="cv" text-anchor="middle">0.57</text>
<rect x="434.00" y="386.47" width="50.60" height="16.28" fill="#741b1d"/>
<text x="459.30" y="397.91" class="cv" text-anchor="middle">0.82</text>
<rect x="332.8" y="353.9" width="151.80" height="48.85" class="bx"/>
<defs><linearGradient id="gd" x1="0" y1="0" x2="0" y2="1"><stop offset="0.00%" stop-color="rgb(212, 50, 53)"/><stop offset="3.86%" stop-color="rgb(197, 46, 49)"/><stop offset="7.73%" stop-color="rgb(182, 43, 45)"/><stop offset="11.59%" stop-color="rgb(166, 39, 42)"/><stop offset="15.46%" stop-color="rgb(150, 35, 38)"/><stop offset="19.32%" stop-color="rgb(134, 32, 34)"/><stop offset="23.18%" stop-color="rgb(118, 28, 29)"/><stop offset="27.05%" stop-color="rgb(101, 24, 25)"/><stop offset="30.91%" stop-color="rgb(83, 20, 21)"/><stop offset="34.78%" stop-color="rgb(65, 15, 16)"/><stop offset="38.64%" stop-color="rgb(46, 11, 12)"/><stop offset="42.50%" stop-color="rgb(26, 6, 6)"/><stop offset="46.37%" stop-color="rgb(0, 0, 0)"/><stop offset="50.84%" stop-color="rgb(6, 24, 6)"/><stop offset="55.31%" stop-color="rgb(11, 44, 11)"/><stop offset="59.78%" stop-color="rgb(15, 62, 15)"/><stop offset="64.25%" stop-color="rgb(20, 79, 20)"/><stop offset="68.72%" stop-color="rgb(24, 96, 24)"/><stop offset="73.18%" stop-color="rgb(28, 112, 28)"/><stop offset="77.65%" stop-color="rgb(32, 128, 32)"/><stop offset="82.12%" stop-color="rgb(35, 143, 35)"/><stop offset="86.59%" stop-color="rgb(39, 158, 39)"/><stop offset="91.06%" stop-color="rgb(43, 173, 43)"/><stop offset="95.53%" stop-color="rgb(46, 188, 46)"/><stop offset="100.00%" stop-color="rgb(50, 202, 50)"/></linearGradient></defs>
<rect x="504.0" y="353.9" width="18.80" height="48.85" fill="url(#gd)" class="bx2"/>
<line x1="504.0" y1="362.91" x2="507.2" y2="362.91" class="tk"/>
<line x1="519.5999999999999" y1="362.91" x2="522.8" y2="362.91" class="tk"/>
<text x="529.6" y="367.36" class="cl">1</text>
<line x1="504.0" y1="376.55" x2="507.2" y2="376.55" class="tk"/>
<line x1="519.5999999999999" y1="376.55" x2="522.8" y2="376.55" class="tk"/>
<text x="529.6" y="381.00" class="cl">0</text>
<line x1="504.0" y1="390.20" x2="507.2" y2="390.20" class="tk"/>
<line x1="519.5999999999999" y1="390.20" x2="522.8" y2="390.20" class="tk"/>
<text x="529.6" y="394.65" class="cl">-1</text>
</svg>
</body></html>
